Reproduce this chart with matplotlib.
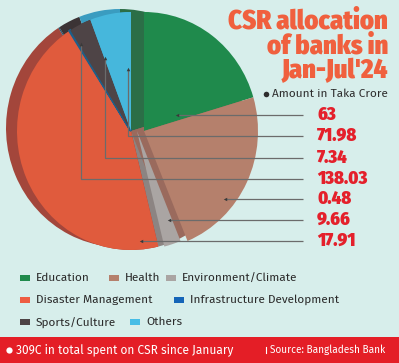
import matplotlib
matplotlib.use("Agg")
import matplotlib.pyplot as plt
from matplotlib.patches import Rectangle

# data
categories = ["Education", "Health", "Environment/Climate", "Disaster Management",
              "Infrastructure Development", "Sports/Culture", "Others"]
amounts = [63, 71.98, 7.34, 138.03, 0.48, 9.66, 17.91]
value_labels = ["63", "71.98", "7.34", "138.03", "0.48", "9.66", "17.91"]

colors = ["#1f8a4c", "#b5806c", "#aaa5a3", "#e05b3d", "#1d5f8a", "#4e4446", "#46b7dc"]
dark_colors = ["#2b6e47", "#9a6a5d", "#8c8482", "#a3463b", "#1b4f6e", "#3b3335", "#3a9cc0"]
legend_colors = ["#1f8a4c", "#b5806c", "#aaa5a3", "#ee5d42", "#1565b8", "#4e4446", "#46bde6"]

W, H = 399, 363
BG = "#d7eeeb"
HEAVY = ["Fira Sans Condensed", "DejaVu Sans"]
BODY = ["Fira Sans", "DejaVu Sans"]

fig = plt.figure(figsize=(W / 100, H / 100), dpi=100)
fig.patch.set_facecolor(BG)

# pie geometry in pixels
cx, cy, rx, ry = 131, 131, 114, 119

axp = fig.add_axes([0, 0, 1, 1])
def px(dx, dy):
    return (dx / rx, -dy / ry)

wp = dict(linewidth=0)
# outer shadow rim
axp.pie(amounts, colors=dark_colors, startangle=90, counterclock=False,
        center=px(-11, -3), radius=1, frame=True, wedgeprops=wp)
# inner sides
axp.pie(amounts, colors=dark_colors, startangle=90, counterclock=False,
        center=(0, 0), radius=1, frame=True, wedgeprops=wp)
# front faces
wedges, _ = axp.pie(amounts, colors=colors, startangle=90, counterclock=False,
                    center=(0, 0), radius=1, frame=True, wedgeprops=wp)
shift = [13, 13, 6, 0, 0, 0, 0]
for w, s in zip(wedges, shift):
    w.set_center(px(s, 0))
wedges[4].set_edgecolor(colors[4])
wedges[4].set_linewidth(1.6)

axp.set_aspect("auto")
axp.set_xlim(-cx / rx, (W - cx) / rx)
axp.set_ylim((cy - H) / ry, cy / ry)
axp.axis("off")

# overlay in pixel coordinates
ax = fig.add_axes([0, 0, 1, 1])
ax.set_xlim(0, W)
ax.set_ylim(H, 0)
ax.axis("off")
ax.patch.set_alpha(0)

ax.text(388, 8, "CSR allocation\nof banks in\nJan-Jul'24", ha="right", va="top",
        fontsize=19, fontweight="black", color="#f0603e", family=HEAVY,
        linespacing=0.92)
ax.plot([266], [94], marker="o", ms=4, color="#2e2e2e", mec="none")
ax.text(388, 94, "Amount in Taka Crore", ha="right", va="center",
        fontsize=8.5, color="#2e2e2e", family=BODY)

# leader lines: anchor point in the pie, then to the label row
label_y = [115, 136, 158, 179, 199, 220, 241]
anchors = [(177, 115), (128, 69), (105, 58), (81, 44), (225, 199), (169, 220), (141, 241)]
for (axx, ayy), ly, lab in zip(anchors, label_y, value_labels):
    if ayy == ly:
        xs, ys = [axx, 303], [ly, ly]
    else:
        xs, ys = [axx, axx, 303], [ayy, ly, ly]
    ax.plot(xs, ys, color="#6b6b6b", lw=0.9, solid_capstyle="butt")
    ax.plot([axx], [ayy], marker="<" if ayy == ly else "^", ms=2.5,
            color="#3a3a3a", mec="none")
    ax.text(317, ly, lab, ha="left", va="center", fontsize=13.2,
            fontweight="black", color="#e4202b", family=HEAVY)

# legend
leg_pos = [(20, 278), (109, 278), (166, 278), (20, 300), (174, 300), (20, 322), (130, 322)]
for (lx, ly), name, c in zip(leg_pos, categories, legend_colors):
    ax.add_patch(Rectangle((lx, ly - 3), 10, 6, color=c, lw=0))
    ax.text(lx + 16, ly, name, ha="left", va="center", fontsize=8.5,
            color="#2b2b2b", family=BODY)

# footer banner
ax.add_patch(Rectangle((0, 337), W, H - 337, color="#e41e26", lw=0))
ax.plot([9], [350], marker="o", ms=4.5, color="white", mec="none")
ax.text(16, 350, "309C in total spent on CSR since January", ha="left",
        va="center", fontsize=8.6, color="white", family=BODY)
ax.plot([266, 266], [347, 353], color="white", lw=0.8)
ax.text(385, 350, "Source: Bangladesh Bank", ha="right", va="center",
        fontsize=7.2, color="white", family=BODY)

fig.savefig("out.png", dpi=100, facecolor=BG)
